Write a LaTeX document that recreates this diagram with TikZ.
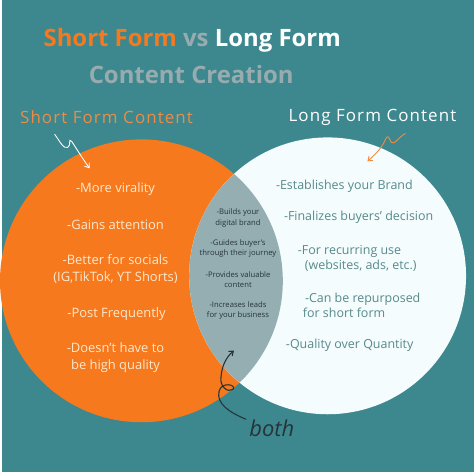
\documentclass[tikz,border=0pt]{standalone}
\usepackage{fontspec}
\setmainfont{Open Sans}
\usepackage{xcolor}
\usetikzlibrary{positioning,arrows.meta}
\definecolor{bgteal}{RGB}{60,136,142}
\definecolor{sforange}{RGB}{247,121,30}
\definecolor{lfwhite}{RGB}{244,252,253}
\definecolor{lensgray}{RGB}{148,174,178}
\definecolor{ltext}{RGB}{252,232,205}
\definecolor{rtext}{RGB}{88,138,140}
\definecolor{ctext}{RGB}{38,52,58}
\definecolor{titlegray}{RGB}{152,172,175}
\definecolor{handorange}{RGB}{236,140,70}

\begin{document}
\begin{tikzpicture}[x=1pt, y=-1pt,
  sfitem/.style={text=ltext, font=\fontsize{13}{17}\selectfont, align=center},
  lfitem/.style={text=rtext, font=\fontsize{12.5}{15.5}\selectfont, align=left, anchor=west, inner sep=0pt},
  bothitem/.style={text=ctext, font=\fontsize{7.7}{10.5}\selectfont, align=center},
  hand/.style={font=\fontsize{17}{20}\selectfont\addfontfeature{LetterSpace=6.5}},
  title/.style={font=\fontsize{24}{28}\selectfont\bfseries},
  squig/.style={-{Straight Barb[length=4pt,width=6pt]}, line width=0.9pt, line cap=round}]
\fill[bgteal] (0,0) rectangle (474,474);
% circles
\fill[sforange] (140,282) circle[radius=142];
\fill[lfwhite] (327,277) circle[radius=139];
\begin{scope}
  \clip (140,282) circle[radius=142];
  \fill[lensgray] (327,277) circle[radius=139];
\end{scope}
% title
\node[title] (t1) at (191,40) {\textcolor{sforange}{Short Form} \textcolor{titlegray}{vs} \textcolor{white}{Long Form}};
\node[title, text=titlegray] (t2) at (190,75) {Content Creation};
% labels
\node[hand, text=handorange] (sfc) at (105,118) {Short Form Content};
\node[hand, text=white] (lfc) at (372,118) {Long Form Content};
\coordinate (sfa) at (53,135);
\coordinate (sfb) at (88,169);
\coordinate (lfa) at (405,134);
\coordinate (lfb) at (367,162);
\draw[squig, white] (sfa) .. controls (58,142) and (62,150) .. (66,148)
  .. controls (70,146) and (66,138) .. (70,142) .. controls (74,148) and (80,158) .. (sfb);
\draw[squig, handorange] (lfa) .. controls (398,138) and (394,146) .. (391,143)
  .. controls (388,139) and (389,134) .. (385,140) .. controls (382,148) and (375,155) .. (lfb);
% short form
\node[sfitem] (s1) at (114,190) {-More virality};
\node[sfitem] (s2) at (114,226) {-Gains attention};
\node[sfitem] (s3) at (114,270) {-Better for socials\\(IG,TikTok, YT Shorts)};
\node[sfitem] (s4) at (115,315) {-Post Frequently};
\node[sfitem] (s5) at (114,359.5) {-Doesn’t have to\\be high quality};
% long form
\node[lfitem] (r1) at (275,187) {-Establishes your Brand};
\node[lfitem] (r2) at (283,218) {-Finalizes buyers’ decision};
\node[lfitem] (r3) at (297,259.5) {-For recurring use\\\hspace{7pt}(websites, ads, etc.)};
\node[lfitem] (r4) at (302,306.5) {\,-Can be repurposed\\for short form};
\node[lfitem] (r5) at (285,347) {-Quality over Quantity};
% both
\node[bothitem] (b1) at (237,219) {-Builds your\\digital brand};
\node[bothitem] (b2) at (237,249.5) {-Guides buyer’s\\through their journey};
\node[bothitem] (b3) at (237,281) {-Provides valuable\\content};
\node[bothitem] (b4) at (237,312) {-Increases leads\\for your business};
\node[text=ctext, font=\fontsize{22}{24}\selectfont\itshape] (both) at (271,430) {both};
\coordinate (bt) at (233,352);
\draw[squig, ctext, line width=1.1pt] ([yshift=9pt]both.west) .. controls (228,414) and (215,405) .. (218,393)
  .. controls (220,383) and (236,386) .. (232,391) .. controls (227,395) and (218,388) .. (220,378)
  .. controls (221,366) and (226,358) .. (bt);
\end{tikzpicture}
\end{document}
